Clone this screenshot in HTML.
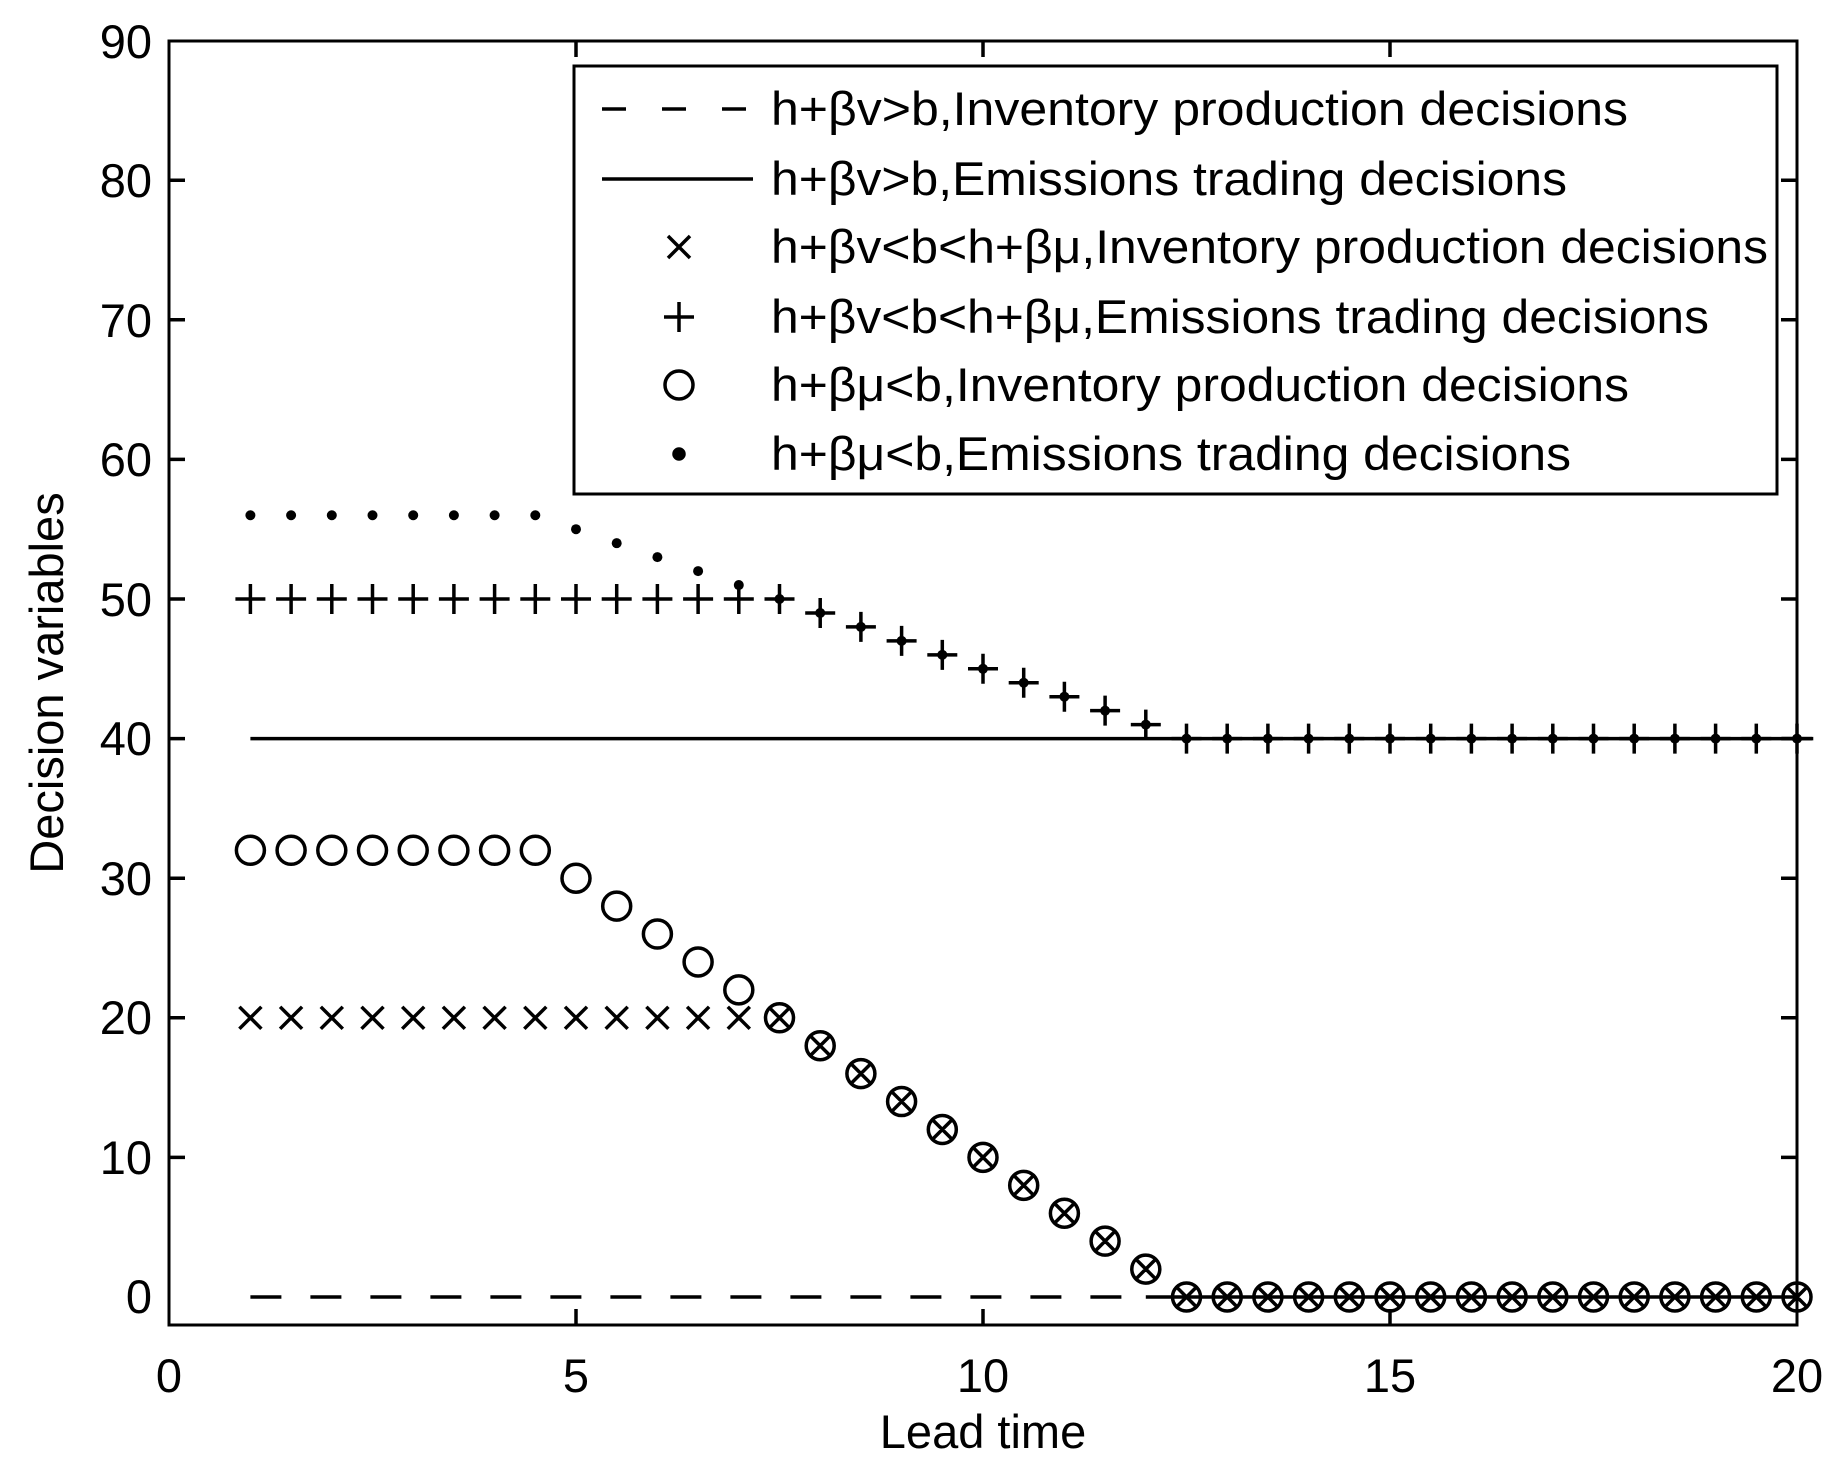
<!DOCTYPE html><html><head><style>body{margin:0;background:#fff}svg{display:block}text{font-family:"Liberation Sans",Arial,sans-serif;fill:#000}</style></head><body>
<svg id="s" width="1841" height="1465" xmlns="http://www.w3.org/2000/svg">
<rect x="169" y="41" width="1628" height="1284" fill="none" stroke="#000" stroke-width="3"/>
<g font-size="47" text-anchor="end">
<text x="152" y="58">90</text><text x="152" y="197">80</text><text x="152" y="337">70</text><text x="152" y="476">60</text><text x="152" y="616">50</text><text x="152" y="755">40</text><text x="152" y="895">30</text><text x="152" y="1034">20</text><text x="152" y="1174">10</text><text x="152" y="1313">0</text></g>
<g font-size="47" text-anchor="middle">
<text x="169" y="1392">0</text><text x="576" y="1392">5</text><text x="983" y="1392">10</text><text x="1390" y="1392">15</text><text x="1797" y="1392">20</text>
<text x="983" y="1448">Lead time</text>
<text transform="translate(63,683) rotate(-90)">Decision variables</text></g>
<g id="p" stroke="#000" stroke-width="3.5" fill="none"></g>
<rect x="574" y="66" width="1203" height="428" fill="#fff" stroke="#000" stroke-width="3"/>
<g stroke="#000" stroke-width="3.5" fill="none">
<path d="M602 109H753" stroke-dasharray="24 36"/>
<path d="M602 179H753"/>
<path d="M668 236l22 22M690 236l-22 22"/>
<path d="M664 317h30M679 302v30"/>
<circle cx="679" cy="385" r="14"/>
<circle cx="679" cy="454" r="5" fill="#000"/>
</g>
<g font-size="47">
<text x="771" y="125" textLength="857" lengthAdjust="spacingAndGlyphs">h+βv&gt;b,Inventory production decisions</text>
<text x="771" y="195" textLength="796" lengthAdjust="spacingAndGlyphs">h+βv&gt;b,Emissions trading decisions</text>
<text x="771" y="263" textLength="997" lengthAdjust="spacingAndGlyphs">h+βv&lt;b&lt;h+βμ,Inventory production decisions</text>
<text x="771" y="333" textLength="938" lengthAdjust="spacingAndGlyphs">h+βv&lt;b&lt;h+βμ,Emissions trading decisions</text>
<text x="771" y="401" textLength="858" lengthAdjust="spacingAndGlyphs">h+βμ&lt;b,Inventory production decisions</text>
<text x="771" y="470" textLength="800" lengthAdjust="spacingAndGlyphs">h+βμ&lt;b,Emissions trading decisions</text></g>
</svg>
<script>
var g=document.getElementById('p'),h='';
function X(t){return 169+t*81.4}function Y(v){return 1297-v*13.96}
function c(a,lo,hi){return Math.max(lo,Math.min(hi,a))}
var tk='';for(var i=1;i<9;i++){var y=Y(i*10);tk+='M169 '+y+'h16M1797 '+y+'h-16';}
for(var i=1;i<4;i++){var x=X(i*5);tk+='M'+x+' 1325v-16M'+x+' 41v16';}
h+='<path d="'+tk+'"/>';
h+='<path d="M'+X(1)+' '+Y(0)+'H'+X(12)+'" stroke-dasharray="31 29"/>';
h+='<path d="M'+X(12)+' '+Y(0)+'H'+X(20)+'"/>';
h+='<path d="M'+X(1)+' '+Y(40)+'H'+X(20.2)+'"/>';
var d='';
for(var k=0;k<39;k++){var t=1+k*0.5,x=X(t);
var xi=c(20-4*(t-7.5),0,20),ci=c(32-4*(t-4.5),0,32),pl=c(50-2*(t-7.5),40,50),dt=c(56-2*(t-4.5),40,56);
var y=Y(xi);d+='M'+(x-11)+' '+(y-11)+'l22 22M'+(x+11)+' '+(y-11)+'l-22 22';
y=Y(pl);d+='M'+(x-15)+' '+y+'h30M'+x+' '+(y-15)+'v30';
h+='<circle cx="'+x+'" cy="'+Y(ci)+'" r="14"/>';
h+='<circle cx="'+x+'" cy="'+Y(dt)+'" r="5" fill="#000" stroke="none"/>';}
h+='<path d="'+d+'"/>';
g.innerHTML=h;
</script>
</body></html>
